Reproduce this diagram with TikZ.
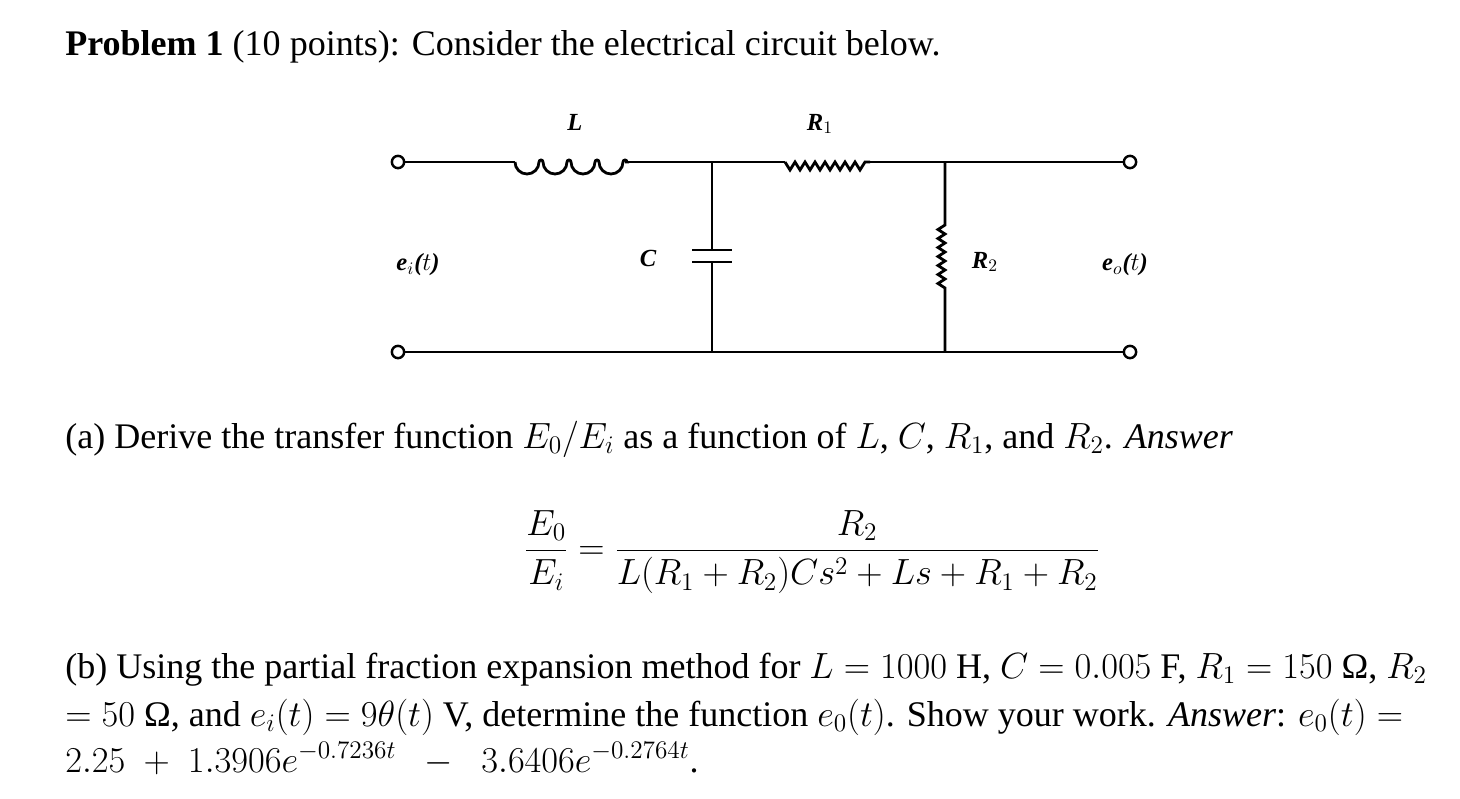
\documentclass[tikz,border=0pt]{standalone}
\usepackage{fontspec}
\setmainfont{Liberation Serif}
\usetikzlibrary{calc}
\tikzset{wire/.style={draw, line width=1.6pt},
  term/.style={circle, draw, line width=1.4pt, inner sep=0pt, minimum size=7pt, fill=white},
  txt/.style={anchor=base west, inner sep=0pt, font=\fontsize{20.5}{24}\selectfont},
  lab/.style={font=\fontsize{14}{16}\selectfont\bfseries\itshape}}
\begin{document}
\begin{tikzpicture}[x=0.02cm, y=-0.02cm]
\useasboundingbox (0,0) rectangle (1460,798);
% terminals
    \node [term] (inTop) at (398,162) {};
    \node [term] (inBot) at (398,352) {};
    \node [term] (outTop) at (1130,162) {};
    \node [term] (outBot) at (1130,352) {};
    \coordinate (Lleft) at (515,162);
    \coordinate (Lright) at (625,162);
    \coordinate (Rleft) at (785,162);
    \coordinate (Rright) at (870,162);
    \coordinate (cTop) at (712,162);
    \coordinate (cBot) at (712,352);
    \coordinate (rTop) at (945,162);
    \coordinate (rBot) at (945,352);
% wires
    \path [wire] (inTop) -- (Lleft);
    \path [wire] (Lright) -- (Rleft);
    \path [wire] (Rright) -- (outTop);
    \path [wire] (inBot) -- (outBot);
    % inductor
    \path [wire] (Lleft) \foreach \i in {0,...,3} {arc[start angle=180, end angle=0, radius=12] arc[start angle=180, end angle=360, radius=2]} -- (Lright);
    % R1
    \path [wire] (Rleft) \foreach \i in {0,...,7} {-- ++(5,8) -- ++(5,-8)} -- (Rright);
    % capacitor
    \path [wire] (cTop) -- (712,250) (cBot) -- (712,262);
    \path [wire] (692,250) -- (732,250) (692,262) -- (732,262);
    % R2
    \path [wire] (rTop) -- (945,225) \foreach \i in {0,...,6} {-- ++(-7,4.5) -- ++(7,4.5)} -- (rBot);
% labels
    \node [lab] (labL) at (575,122) {L};
    \node [lab] (labR1) at (820,124) {R$_1$};
    \node [lab] (labC) at (648,258) {C};
    \node [lab] (labR2) at (985,262) {R$_2$};
    \node [lab] (labEi) at (418,265) {e$_i$($t$)};
    \node [lab] (labEo) at (1125,265) {e$_o$($t$)};
% text
    \node [txt] (title) at (65,55) {\textbf{Problem 1} (10 points): Consider the electrical circuit below.};
    \node [txt] (partA) at (65,448) {(a) Derive the transfer function $E_0/E_i$ as a function of $L$, $C$, $R_1$, and $R_2$. \textit{Answer}};
    \node [font=\fontsize{21.5}{24}\selectfont] (eqn) at (812,552) {$\displaystyle \frac{E_0}{E_i}=\frac{R_2}{L(R_1+R_2)Cs^2+Ls+R_1+R_2}$};
    \node [txt] (partB1) at (65,678) {(b) Using the partial fraction expansion method for $L=1000$ H, $C=0.005$ F, $R_1=150$ Ω, $R_2$};
    \node [txt] (partB2) at (65,726) {$=50$ Ω, and $e_i(t)=9\theta(t)$ V, determine the function $e_0(t)$. Show your work. \textit{Answer}: $e_0(t)=$};
    \node [txt] (partB3) at (65,772) {$2.25\;+\;1.3906e^{-0.7236t}\;\;-\;\;3.6406e^{-0.2764t}$.};
\end{tikzpicture}
\end{document}
